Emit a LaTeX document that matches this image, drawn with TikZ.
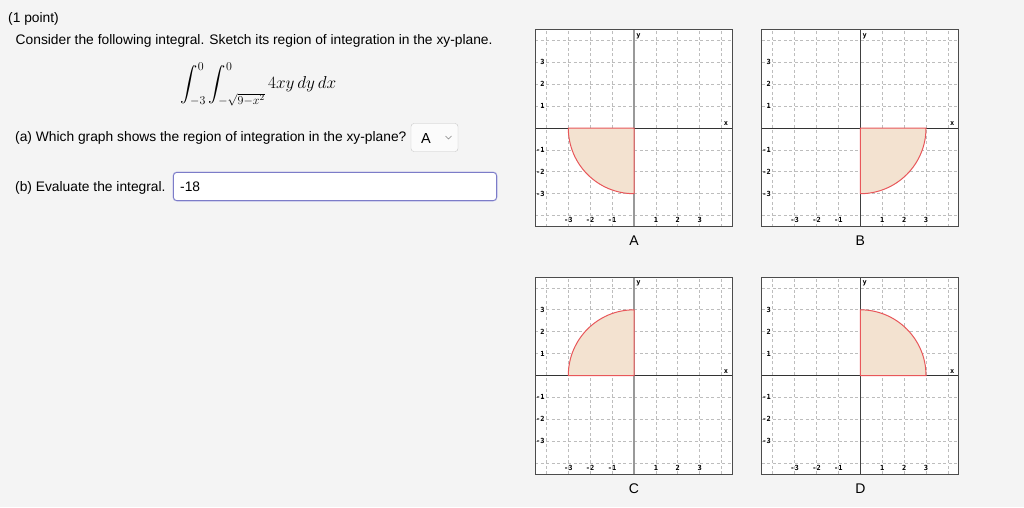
\documentclass[tikz,border=0pt]{standalone}
\usepackage{amsmath}
\usepackage{fontspec}
\setmainfont{Liberation Sans}
\newfontfamily\tickfont{DejaVu Sans Mono}
\usepackage{tikz}
\usetikzlibrary{%
  positioning,% wg. " of "
  shadows%
}

\definecolor{pagebg}{HTML}{F4F4F4}
\definecolor{gridgray}{HTML}{BDBDBD}
\definecolor{regionfill}{HTML}{F3E2D0}
\definecolor{regionred}{HTML}{E8575A}
\definecolor{fieldblue}{HTML}{7C7CC8}

\tikzset{
  gridline/.style = {gridgray, dash pattern=on 3pt off 2.5pt, line width=0.7pt},
  region/.style   = {fill=regionfill, draw=regionred, line width=1pt},
  xaxis/.style    = {black!80, line width=0.9pt},
  yaxis/.style    = {#1, line width=1.1pt},
  frame/.style    = {black!70, line width=0.9pt},
  ticklab/.style  = {inner sep=0.5pt, font=\tickfont\bfseries\fontsize{7}{7}\selectfont},
  graphlab/.style = {font=\fontsize{14}{16}\selectfont},
  prompt/.style   = {anchor=base west, inner sep=0pt, font=\fontsize{13.8}{16}\selectfont},
}

% one answer graph: name, origin x, origin y, start angle of the quarter disk, y-axis colour
\newcommand{\QuadGraph}[5]{%
  \begin{scope}[shift={(#2pt,#3pt)}, x=21.9pt, y=21.9pt]
    \fill[white] (-4.5,-4.5) rectangle (4.5,4.5);
    \foreach \g in {-4,...,4} {
      \draw[gridline] (\g,-4.5) -- (\g,4.5);
      \draw[gridline] (-4.5,\g) -- (4.5,\g);
    }
    \draw[yaxis=#5] (0,-4.5) -- (0,4.5);
    \draw[xaxis] (-4.5,0) -- (4.5,0);
    \filldraw[region] (0,0) -- (#4:3) arc[start angle=#4, end angle=#4+90, radius=3] -- cycle;
    \draw[frame] (-4.5,-4.5) rectangle (4.5,4.5);
    \foreach \k in {1,2,3} {
      \node[ticklab, anchor=east] (#1-yp\k) at (-4.05,\k) {\k};
      \node[ticklab, anchor=east] (#1-yn\k) at (-4.05,-\k) {-\k};
      \node[ticklab] (#1-xp\k) at (\k,-4.2) {\k};
      \node[ticklab] (#1-xn\k) at (-\k,-4.2) {-\k};
    }
    \node[ticklab] (#1-ylab) at (0.2,4.2) {y};
    \node[ticklab] (#1-xlab) at (4.2,0.2) {x};
    \node[graphlab] (#1-name) at (0,-5.15) {#1};
  \end{scope}}

\begin{document}
\begin{tikzpicture}[x=1pt, y=1pt]
  \useasboundingbox[fill=pagebg] (0,0) rectangle (1024,-507);

  % question text
  \node[prompt] (points) at (8,-22) {(1 point)};
  \node[prompt] (task) at (15.5,-44) {Consider the following integral. Sketch its region of integration in the xy-plane.};
  \node[inner sep=0pt, font=\fontsize{18}{20}\selectfont] (integral) at (258.5,-84)
    {$\displaystyle\int_{-3}^{0}\int_{-\sqrt{9-x^2}}^{0} 4xy\,dy\,dx$};
  \node[prompt] (parta) at (15,-141) {(a) Which graph shows the region of integration in the xy-plane?};
  \node[prompt] (partb) at (15,-191) {(b) Evaluate the integral.};

  % answer fields
  \draw[gray!45, fill=white!60!pagebg, rounded corners=3pt] (411,-123.5) rectangle (458,-151.5);
  \node[prompt, font=\fontsize{14.5}{16}\selectfont] (choice) at (421,-143) {A};
  \draw[gray, line width=0.5pt] (445.5,-136) -- (448.5,-139) -- (451.5,-136);
  \draw[fieldblue!35, line width=2.5pt, rounded corners=4pt] (173.5,-172.5) rectangle (496.5,-200.5);
  \draw[fieldblue, fill=white, line width=0.9pt, rounded corners=3pt] (173.5,-172.5) rectangle (496.5,-200.5);
  \node[prompt] (answer) at (180,-191) {-18};

  % the four graphs
  \QuadGraph{A}{634}{-128}{180}{gray!80}
  \QuadGraph{B}{860.3}{-128}{270}{black!75}
  \QuadGraph{C}{634}{-375.5}{90}{gray!80}
  \QuadGraph{D}{860.3}{-375.5}{0}{black!75}
\end{tikzpicture}
\end{document}
